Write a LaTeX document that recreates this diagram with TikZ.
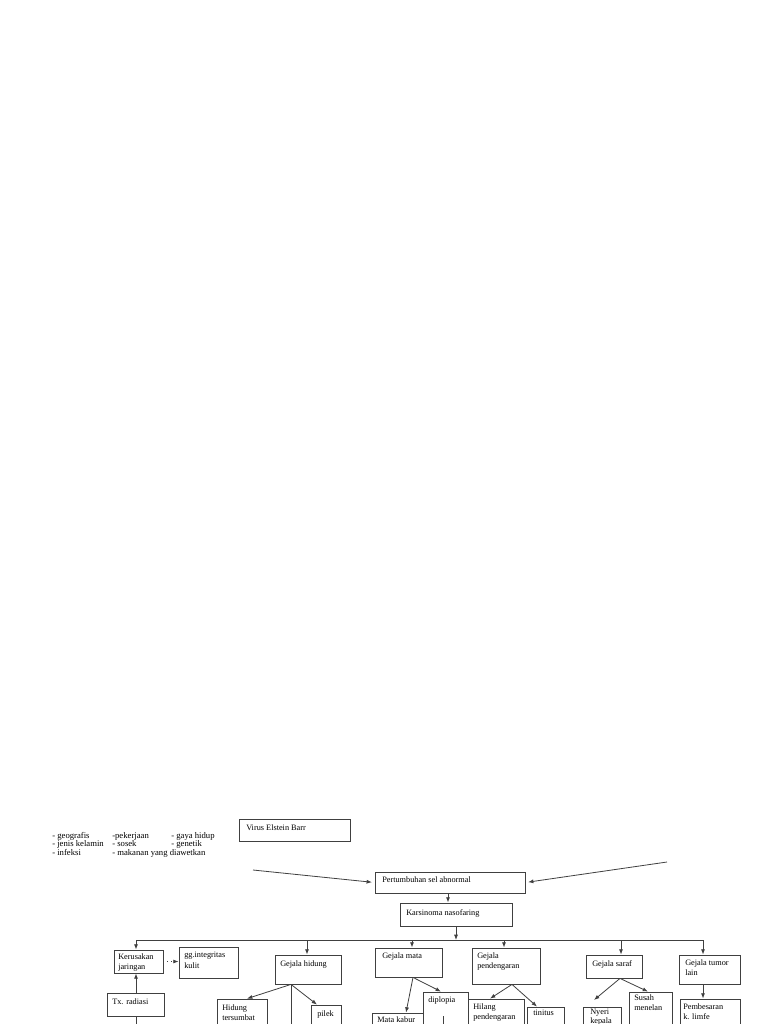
\documentclass[tikz,border=0pt]{standalone}
\usepackage{fontspec}
\setmainfont{Liberation Serif}
\usetikzlibrary{arrows.meta,fit}
\begin{document}
\begin{tikzpicture}[x=0.75pt,y=-0.75pt,
  bx/.style={draw=black!75,line width=0.6pt,inner sep=0pt},
  tx/.style={font=\fontsize{6.2}{7.8}\selectfont,inner sep=0pt,anchor=north west,align=left},
  rf/.style={font=\fontsize{6.5}{6.4}\selectfont,inner sep=0pt,anchor=north west,align=left},
  ln/.style={draw=black!75,line width=0.6pt},
  arr/.style={ln,-{Latex[length=4pt,width=3pt]}},
  dotarr/.style={arr,dotted}]
\useasboundingbox (0,0) rectangle (768,1024);
\fill[white] (0,0) rectangle (768,1024);
\clip (0,0) rectangle (768,1024);

% risk factors
\node[rf] (rf1) at (52,832) {- geografis\\- jenis kelamin\\- infeksi};
\node[rf] (rf2) at (112,832) {-pekerjaan\\- sosek\\- makanan yang diawetkan};
\node[rf] (rf3) at (171,832) {- gaya hidup\\- genetik};

% boxes
\node[bx,fit={(239,819) (350,841)}] (virus) {};
\node[tx] (tvirus) at (246,824) {Virus Elstein Barr};
\node[bx,fit={(375,872) (525,893)}] (pert) {};
\node[tx] (tpert) at (382,876) {Pertumbuhan sel abnormal};
\node[bx,fit={(400,903) (512,926)}] (kars) {};
\node[tx] (tkars) at (406,909) {Karsinoma nasofaring};

\node[bx,fit={(114,950) (163,973)}] (ker) {};
\node[tx] (tker) at (118,953) {Kerusakan\\jaringan};
\node[bx,fit={(179,947) (238,978)}] (integ) {};
\node[tx] (tinteg) at (184,952) {gg.integritas\\kulit};
\node[bx,fit={(107,993) (164,1016)}] (txr) {};
\node[tx] (ttxr) at (112,998) {Tx. radiasi};

\node[bx,fit={(275,955) (341,984)}] (hid) {};
\node[tx] (thid) at (280,960) {Gejala hidung};
\node[bx,fit={(217,999) (267,1040)}] (tsb) {};
\node[tx] (ttsb) at (222,1004) {Hidung\\tersumbat};
\node[bx,fit={(311,1005) (341,1040)}] (pilek) {};
\node[tx] (tpilek) at (317,1010) {pilek};

\node[bx,fit={(375,948) (442,977)}] (mata) {};
\node[tx] (tmata) at (382,952) {Gejala mata};
\node[bx,fit={(423,992) (468,1040)}] (dip) {};
\node[tx] (tdip) at (428,996) {diplopia};
\node[bx,fit={(372,1013) (423,1040)}] (kabur) {};
\node[tx] (tkabur) at (377,1016) {Mata kabur};

\node[bx,fit={(472,948) (540,984)}] (pend) {};
\node[tx] (tpend) at (477,952) {Gejala\\pendengaran};
\node[bx,fit={(468,999) (524,1040)}] (hil) {};
\node[tx] (thil) at (473,1003) {Hilang\\pendengaran};
\node[bx,fit={(527,1007) (564,1040)}] (tin) {};
\node[tx] (ttin) at (533,1010) {tinitus};

\node[bx,fit={(586,955) (642,978)}] (saraf) {};
\node[tx] (tsaraf) at (592,960) {Gejala saraf};
\node[bx,fit={(583,1007) (621,1040)}] (nyeri) {};
\node[tx,font=\fontsize{6.2}{6.6}\selectfont] (tnyeri) at (590,1009) {Nyeri\\kepala};
\node[bx,fit={(629,992) (672,1040)}] (susah) {};
\node[tx] (tsusah) at (634,994) {Susah\\menelan};

\node[bx,fit={(679,955) (740,984)}] (tumor) {};
\node[tx] (ttumor) at (685,959) {Gejala tumor\\lain};
\node[bx,fit={(680,999) (740,1040)}] (pemb) {};
\node[tx] (tpemb) at (683,1003) {Pembesaran\\k. limfe};

% connectors
\coordinate (lf) at (253,870);
\coordinate (rt) at (667,862);
\draw[arr,shorten >=2pt] (lf) -- (pert.west);
\draw[arr,shorten >=2pt] (rt) -- (pert.east);
\draw[arr] (pert.south -| 448,0) -- (kars.north -| 448,0);

\coordinate (bus) at (456,940);
\coordinate (bL) at (136,940);
\coordinate (bR) at (703,940);
\coordinate (b1) at (307,940);
\coordinate (b2) at (412,940);
\coordinate (b3) at (504,940);
\coordinate (b4) at (621,940);
\draw[arr] (kars.south -| bus) -- (bus);
\draw[ln] (bL) -- (bR);
\draw[arr] (bL) -- (ker.north -| bL);
\draw[arr] (b1) -- (hid.north -| b1);
\draw[arr] (b2) -- (mata.north -| b2);
\draw[arr] (b3) -- (pend.north -| b3);
\draw[arr] (b4) -- (saraf.north -| b4);
\draw[arr] (bR) -- (tumor.north -| bR);

\draw[dotarr,shorten <=3pt] (ker.east) -- (ker.east -| integ.west);
\draw[arr] (txr.north -| bL) -- (ker.south -| bL);
\coordinate (txd) at (136,1030);
\draw[ln] (txr.south -| txd) -- (txd);

\draw[arr] (hid.south -| 291,0) -- (tsb.north -| 247,0);
\draw[arr] (hid.south -| 291,0) -- (pilek.north -| 317,0);
\coordinate (hd) at (291,1030);
\draw[ln] (hid.south -| hd) -- (hd);

\draw[arr] (mata.south -| 413,0) -- (dip.north -| 441,0);
\draw[arr] (mata.south -| 413,0) -- (kabur.north -| 406,0);
\coordinate (dt) at (443,1016);
\coordinate (dd) at (443,1030);
\draw[ln] (dt) -- (dd);

\draw[arr] (pend.south -| 512,0) -- (hil.north -| 490,0);
\draw[arr] (pend.south -| 512,0) -- (tin.north -| 537,0);

\coordinate (ny) at (594,1000);
\draw[arr] (saraf.south -| 620,0) -- (ny);
\draw[arr] (saraf.south -| 620,0) -- (susah.north -| 648,0);

\draw[arr] (tumor.south -| bR) -- (pemb.north -| bR);
\end{tikzpicture}
\end{document}
